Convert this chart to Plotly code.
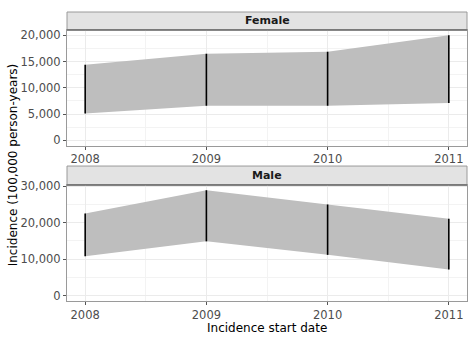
import plotly.graph_objects as go

years = [2008, 2009, 2010, 2011]
female_lower = [5100, 6600, 6600, 7100]
female_upper = [14400, 16500, 16900, 20050]
male_lower = [10800, 14900, 11200, 7200]
male_upper = [22500, 28900, 25000, 21100]
panels = ["Female", "Male"]

FONT = "DejaVu Sans"
fig = go.Figure()

def add_panel(lower, upper, xa, ya):
    fig.add_trace(go.Scatter(x=years, y=lower, mode="lines", line=dict(width=0),
                             showlegend=False, hoverinfo="skip", xaxis=xa, yaxis=ya))
    fig.add_trace(go.Scatter(x=years, y=upper, mode="lines", line=dict(width=0),
                             fill="tonexty", fillcolor="rgba(190,190,190,1)",
                             showlegend=False, xaxis=xa, yaxis=ya))
    xs, ys = [], []
    for x, lo, hi in zip(years, lower, upper):
        xs += [x, x, None]
        ys += [lo, hi, None]
    fig.add_trace(go.Scatter(x=xs, y=ys, mode="lines", line=dict(color="black", width=1.6),
                             showlegend=False, xaxis=xa, yaxis=ya))

add_panel(female_lower, female_upper, "x", "y")
add_panel(male_lower, male_upper, "x2", "y2")

grid = "#EBEBEB"
border = "#9A9A9A"
tickfont = dict(family=FONT, size=11.5, color="#4D4D4D")

def xaxis_cfg(anchor):
    return dict(domain=[0, 1], anchor=anchor, range=[2007.85, 2011.15],
                tickvals=years, ticktext=[str(y) for y in years],
                showgrid=True, gridcolor=grid, gridwidth=1,
                minor=dict(showgrid=True, gridcolor="#F3F3F3", gridwidth=0.6, dtick=0.5, tick0=2008),
                ticks="outside", ticklen=3, tickcolor="#555555",
                showline=True, mirror=True, linecolor=border, linewidth=1,
                zeroline=False, tickfont=tickfont)

def yaxis_cfg(anchor, dom, rng, dtick):
    return dict(domain=dom, anchor=anchor, range=rng, dtick=dtick, tick0=0,
                tickformat=",d", showgrid=True, gridcolor=grid, gridwidth=1,
                minor=dict(showgrid=True, gridcolor="#F3F3F3", gridwidth=0.6, dtick=dtick / 2),
                ticks="outside", ticklen=3, tickcolor="#555555",
                showline=True, mirror=True, linecolor=border, linewidth=1,
                zeroline=False, tickfont=tickfont)

top_dom = [0.538, 0.938]
bot_dom = [0.0, 0.401]
fig.update_layout(
    width=474, height=338,
    margin=dict(l=67, r=6, t=10, b=37),
    paper_bgcolor="white", plot_bgcolor="white",
    xaxis=xaxis_cfg("y"),
    yaxis=yaxis_cfg("x", top_dom, [-1000, 21050], 5000),
    xaxis2=xaxis_cfg("y2"),
    yaxis2=yaxis_cfg("x2", bot_dom, [-1430, 30300], 10000),
)

strips = [(panels[0], top_dom[1], 1.0), (panels[1], bot_dom[1], 0.467)]
for name, y0, y1 in strips:
    fig.add_shape(type="rect", xref="paper", yref="paper", x0=0, x1=1, y0=y0, y1=y1,
                  fillcolor="#E3E3E3", line=dict(color=border, width=1), layer="below")
    fig.add_shape(type="line", xref="paper", yref="paper", x0=0, x1=1, y0=y0, y1=y0,
                  line=dict(color="#6E6E6E", width=1.5))
    fig.add_annotation(text="<b>%s</b>" % name, xref="paper", yref="paper",
                       x=0.5, y=(y0 + y1) / 2, xanchor="center", yanchor="middle",
                       showarrow=False, font=dict(family=FONT, size=11, color="#1A1A1A"))

fig.add_annotation(text="Incidence (100,000 person-years)", xref="paper", yref="paper",
                   x=-0.1347, y=0.47, xanchor="center", yanchor="middle", textangle=-90,
                   showarrow=False, font=dict(family=FONT, size=12, color="black"))
fig.add_annotation(text="Incidence start date", xref="paper", yref="paper",
                   x=0.5, y=-0.093, xanchor="center", yanchor="middle",
                   showarrow=False, font=dict(family=FONT, size=12, color="black"))

fig.write_html("out.html")
